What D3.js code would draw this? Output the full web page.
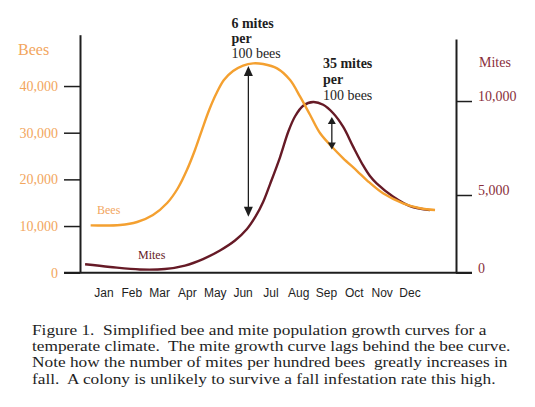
<!DOCTYPE html>
<html>
<head>
<meta charset="utf-8">
<script src="https://cdn.jsdelivr.net/npm/d3@7"></script>
<style>
  html, body { margin: 0; padding: 0; background: #fff; }
  svg { display: block; }
</style>
</head>
<body>
<div id="chart"></div>
<script>
// Month labels along the bottom
const months = ['Jan', 'Feb', 'Mar', 'Apr', 'May', 'Jun', 'Jul', 'Aug', 'Sep', 'Oct', 'Nov', 'Dec'];

// Bee population curve (month position, 1 = Jan) -- left axis
const beeMonths = [0.52, 1.58, 2.19, 2.76, 3.27, 3.66, 3.98, 4.27, 4.52, 4.78, 5.03, 5.31, 5.64, 6.00, 6.36, 6.72, 7.22, 7.69, 8.05, 8.41, 8.77, 9.20, 9.59, 10.10, 10.46, 11.03, 11.75, 12.36, 12.90];
const beeValues = [10150, 10220, 10860, 12360, 14930, 18150, 22000, 26300, 30570, 34860, 38290, 41290, 43210, 44390, 44860, 44710, 43790, 41290, 37710, 33790, 29870, 26930, 24570, 21790, 19750, 17010, 14870, 13800, 13430];

// Mite population curve -- right axis
const miteMonths = [0.32, 1.22, 2.29, 3.19, 3.91, 4.56, 5.17, 5.71, 6.14, 6.46, 6.72, 6.97, 7.33, 7.63, 7.87, 8.16, 8.52, 8.88, 9.24, 9.60, 9.96, 10.32, 10.56, 10.80, 11.40, 12.00, 12.72];
const miteValues = [540, 370, 210, 240, 460, 880, 1430, 2070, 2810, 3650, 4550, 5580, 7020, 8390, 9190, 9750, 9950, 9800, 9350, 8620, 7560, 6560, 6010, 5620, 4890, 4290, 4030];

// Axis ticks
const beeTicks = [0, 10000, 20000, 30000, 40000];
const miteTicks = [0, 5000, 10000];

// Annotations: arrows between the curves
const arrows = [
  { month: 6.19, fromAxis: 'bees', from: 44300, toAxis: 'mites', to: 3600, head: 10, headW: 9 },
  { month: 9.19, fromAxis: 'mites', from: 9150, toAxis: 'bees', to: 26400, head: 7, headW: 8 }
];
const notes = [
  { lines: ['6 mites', 'per', '100 bees'], month: 5.58, y: 28, step: 15 },
  { lines: ['35 mites', 'per', '100 bees'], month: 8.87, y: 68, step: 16 }
];

const caption = [
  'Figure 1.  Simplified bee and mite population growth curves for a',
  'temperate climate.  The mite growth curve lags behind the bee curve.',
  'Note how the number of mites per hundred bees  greatly increases in',
  'fall.  A colony is unlikely to survive a fall infestation rate this high.'
];

const width = 535, height = 407;
const BEE_COLOR = '#f4a030';
const BEE_TEXT = '#f2a65e';
const MITE_COLOR = '#661a26';
const MITE_TEXT = '#8a2f3c';
const INK = '#1e1e1e';
const SERIF = '"Liberation Serif", "Times New Roman", serif';
const SANS = '"Liberation Sans", Arial, sans-serif';

const svg = d3.select('#chart').append('svg')
  .attr('width', width)
  .attr('height', height)
  .attr('viewBox', `0 0 ${width} ${height}`);

const left = 80, right = 456, baseY = 272.7;

const x = d3.scaleLinear().domain([1, 12]).range([104, 410]);
const yBees = d3.scaleLinear().domain([0, 51000]).range([baseY, 34.7]);
// the hand-drawn mite axis is not evenly spaced
const yMites = d3.scaleLinear().domain([0, 5000, 13300]).range([baseY, 195, 39]);
const yFor = axis => axis === 'bees' ? yBees : yMites;

// baseline across the bottom (extends as the 0 ticks)
svg.append('line')
  .attr('x1', left - 16).attr('x2', right + 16)
  .attr('y1', baseY).attr('y2', baseY)
  .attr('stroke', INK).attr('stroke-width', 2);

// Left axis (bees)
const leftAxis = svg.append('g')
  .attr('transform', `translate(${left},0)`)
  .call(d3.axisLeft(yBees).tickValues(beeTicks).tickSize(16).tickSizeOuter(0)
    .tickFormat(d3.format(',')));
leftAxis.select('.domain').attr('stroke', INK).attr('stroke-width', 2);
leftAxis.selectAll('.tick line').attr('stroke', INK).attr('stroke-width', 1.5);
leftAxis.selectAll('.tick text')
  .attr('x', -22)
  .attr('fill', BEE_TEXT)
  .style('font-family', SERIF)
  .style('font-size', '14px');

// Right axis (mites)
const rightAxis = svg.append('g')
  .attr('transform', `translate(${right},0)`)
  .call(d3.axisRight(yMites).tickValues(miteTicks).tickSize(16).tickSizeOuter(0)
    .tickFormat(d3.format(',')));
rightAxis.select('.domain').attr('stroke', INK).attr('stroke-width', 2);
rightAxis.selectAll('.tick line').attr('stroke', INK).attr('stroke-width', 1.5);
rightAxis.selectAll('.tick text')
  .attr('x', 22)
  .attr('dy', '-0.05em')
  .attr('fill', MITE_TEXT)
  .style('font-family', SERIF)
  .style('font-size', '14px');

// Axis titles
svg.append('text')
  .attr('x', 18).attr('y', 55)
  .attr('fill', BEE_TEXT)
  .style('font-family', SERIF).style('font-size', '16px')
  .text('Bees');
svg.append('text')
  .attr('x', 479).attr('y', 67)
  .attr('fill', MITE_TEXT)
  .style('font-family', SERIF).style('font-size', '14px')
  .text('Mites');

// Month labels
svg.append('g')
  .selectAll('text')
  .data(months)
  .join('text')
  .attr('x', (d, i) => x(i + 1))
  .attr('y', 297)
  .attr('text-anchor', 'middle')
  .attr('fill', INK)
  .style('font-family', SANS)
  .style('font-size', '12px')
  .text(d => d);

// Curves
const line = d3.line()
  .x(d => x(d[0]))
  .y(d => d[1])
  .curve(d3.curveCatmullRom.alpha(0.5));

svg.append('path')
  .datum(miteMonths.map((m, i) => [m, yMites(miteValues[i])]))
  .attr('fill', 'none')
  .attr('stroke', MITE_COLOR)
  .attr('stroke-width', 2.4)
  .attr('d', line);

svg.append('path')
  .datum(beeMonths.map((m, i) => [m, yBees(beeValues[i])]))
  .attr('fill', 'none')
  .attr('stroke', BEE_COLOR)
  .attr('stroke-width', 2.4)
  .attr('d', line);

// Inline series labels
svg.append('text')
  .attr('x', 97).attr('y', 214)
  .attr('fill', BEE_TEXT)
  .style('font-family', SERIF).style('font-size', '12px')
  .text('Bees');
svg.append('text')
  .attr('x', 138).attr('y', 259)
  .attr('fill', MITE_COLOR)
  .style('font-family', SERIF).style('font-size', '12px')
  .text('Mites');

// Double-headed arrows
const arrowHead = (px, py, dir, len, w) => {
  // dir: -1 tip points up, 1 tip points down
  return `M${px},${py} L${px - w / 2},${py - dir * len} L${px + w / 2},${py - dir * len} Z`;
};
arrows.forEach(a => {
  const ax = x(a.month);
  const y1 = yFor(a.fromAxis)(a.from);
  const y2 = yFor(a.toAxis)(a.to);
  svg.append('line')
    .attr('x1', ax).attr('x2', ax)
    .attr('y1', y1 + a.head - 1).attr('y2', y2 - a.head + 1)
    .attr('stroke', INK).attr('stroke-width', 1.3);
  svg.append('path').attr('d', arrowHead(ax, y1, -1, a.head, a.headW)).attr('fill', INK);
  svg.append('path').attr('d', arrowHead(ax, y2, 1, a.head, a.headW)).attr('fill', INK);
});

// Arrow notes
notes.forEach(n => {
  svg.append('g')
    .selectAll('text')
    .data(n.lines)
    .join('text')
    .attr('x', x(n.month))
    .attr('y', (d, i) => n.y + i * n.step)
    .attr('fill', INK)
    .style('font-family', SERIF)
    .style('font-size', '14px')
    .style('font-weight', (d, i) => i < 2 ? 'bold' : 'normal')
    .text(d => d);
});

// Caption: tight leading, glyphs widened a little like the scanned original
svg.append('g')
  .attr('transform', 'translate(32,0) scale(1.185,1)')
  .selectAll('text')
  .data(caption)
  .join('text')
  .attr('x', 0)
  .attr('y', (d, i) => 335 + i * 16.2)
  .attr('fill', INK)
  .style('font-family', SERIF)
  .style('font-size', '14.6px')
  .style('white-space', 'pre')
  .text(d => d);
</script>
</body>
</html>
